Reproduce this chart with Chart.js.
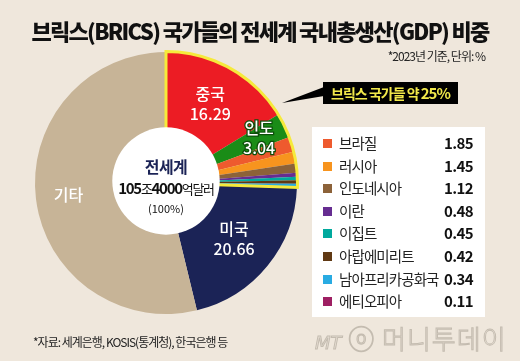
<!DOCTYPE html>
<html>
<head>
<meta charset="utf-8">
<script src="https://cdn.jsdelivr.net/npm/chart.js@4"></script>
<style>
  html, body { margin: 0; padding: 0; }
  body { width: 520px; height: 361px; background: #efe7dc; font-family: "Noto Sans CJK KR", sans-serif; overflow: hidden; }
  #wrap { position: relative; width: 520px; height: 361px; }
  #chart { position: absolute; left: 0; top: 0; }
  .abs { position: absolute; white-space: nowrap; }
  #title { left: 0; width: 520px; top: 14px; text-align: center; font-size: 22px; font-weight: 900; color: #111; letter-spacing: -1.7px; }
  #sub { right: 35px; top: 47px; font-size: 12px; color: #222; letter-spacing: -1px; }
  #callout { left: 323px; top: 82px; width: 135px; height: 22px; background: #000; color: #f2e94a; font-size: 14px; font-weight: 700; line-height: 22px; text-align: center; letter-spacing: -1px; }
  #center { left: 106px; width: 120px; top: 155px; text-align: center; color: #111; }
  #center .a { font-size: 16px; font-weight: 700; color: #1b2356; line-height: 22px; letter-spacing: -0.5px; }
  #center .b { font-size: 13px; line-height: 22px; letter-spacing: -1.3px; }
  #center .b b { font-size: 15px; }
  #center .c { font-size: 11px; line-height: 16px; }
  #legend { left: 312px; top: 127px; width: 173px; height: 190px; background: #fff; }
  .item { position: absolute; left: 0; width: 173px; height: 20px; }
  .sw { position: absolute; left: 11px; top: 6px; width: 9px; height: 9px; }
  .lab { position: absolute; left: 27px; top: 0; font-size: 14.5px; color: #222; line-height: 20px; letter-spacing: -0.9px; }
  .val { position: absolute; right: 12px; top: 0; font-size: 15px; font-weight: 700; color: #111; line-height: 20px; letter-spacing: -0.6px; }
  #foot { left: 33px; top: 333px; font-size: 12px; color: #222; letter-spacing: -1px; }
  #mark { left: 315px; top: 319px; font-size: 26px; color: #e8e0d5; -webkit-text-stroke: 1px #c4bcb0; letter-spacing: 1px; font-weight: 300; }
  #mark i { font-family: "DejaVu Sans", sans-serif; font-size: 18px; letter-spacing: 0; }
</style>
</head>
<body>
<div id="wrap">
  <canvas id="chart" width="520" height="361"></canvas>
  <div id="title" class="abs">브릭스(BRICS) 국가들의 전세계 국내총생산(GDP) 비중</div>
  <div id="sub" class="abs">*2023년 기준, 단위: %</div>
  <div id="callout" class="abs">브릭스 국가들 약 <span style="font-size:15px">25%</span></div>
  <div id="center" class="abs">
    <div class="a">전세계</div>
    <div class="b"><b>105</b>조<b>4000</b>억달러</div>
    <div class="c">(100%)</div>
  </div>
  <div id="legend" class="abs"></div>
  <div id="foot" class="abs">*자료: 세계은행, KOSIS(통계청), 한국은행 등</div>
  <div id="mark" class="abs"><i>MT</i> ⓞ 머니투데이</div>
</div>
<script>
// 2023 GDP share of world total, %
var countries = ['중국', '인도', '브라질', '러시아', '인도네시아', '이란', '이집트', '아랍에미리트', '남아프리카공화국', '에티오피아', '미국', '기타'];
var shares = [16.29, 3.04, 1.85, 1.45, 1.12, 0.48, 0.45, 0.42, 0.34, 0.11, 20.66, 53.79];
var colors = ['#ec1c24', '#1a8c17', '#ee5a2e', '#f7941e', '#8c6239', '#662d91', '#00a99d', '#603913', '#29abe2', '#9e1f63', '#1b2356', '#c7b497'];
var bricsCount = 10;            // first 10 slices are BRICS members
var legendIdx = [2, 3, 4, 5, 6, 7, 8, 9];
var sliceLabels = [0, 1, 10, 11]; // labelled inside the pie

// legend box
var legend = document.getElementById('legend');
legendIdx.forEach(function (k, i) {
    var d = document.createElement('div');
    d.className = 'item';
    d.style.top = (6 + i * 22.6) + 'px';
    d.innerHTML = '<span class="sw" style="background:' + colors[k] + '"></span>' +
        '<span class="lab">' + countries[k] + '</span>' +
        '<span class="val">' + shares[k].toFixed(2) + '</span>';
    legend.appendChild(d);
});

var labelPos = { 0: 0.69, 1: 0.79, 10: 0.67, 11: 0.75 };

var decor = {
    id: 'decor',
    afterDatasetsDraw: function (chart) {
        var ctx = chart.ctx;
        var arcs = chart.getDatasetMeta(0).data;
        var cx = arcs[0].x, cy = arcs[0].y, R = arcs[0].outerRadius;
        var a0 = arcs[0].startAngle, a1 = arcs[bricsCount - 1].endAngle;

        // yellow outline round the BRICS wedge
        ctx.save();
        ctx.strokeStyle = '#f6ea3c';
        ctx.lineWidth = 3;
        ctx.lineJoin = 'miter';
        ctx.beginPath();
        ctx.moveTo(cx, cy);
        ctx.arc(cx, cy, R + 0.5, a0, a1);
        ctx.closePath();
        ctx.stroke();

        // callout pointer
        ctx.fillStyle = '#000';
        ctx.beginPath();
        ctx.moveTo(324, 87);
        ctx.lineTo(324, 96);
        ctx.lineTo(282, 103);
        ctx.closePath();
        ctx.fill();

        // white centre disc
        ctx.fillStyle = '#fff';
        ctx.beginPath();
        ctx.arc(cx, cy - 2, R * 0.41, 0, Math.PI * 2);
        ctx.fill();

        // slice labels
        ctx.textAlign = 'center';
        ctx.textBaseline = 'middle';
        sliceLabels.forEach(function (k) {
            var a = arcs[k];
            var mid = (a.startAngle + a.endAngle) / 2;
            var r = R * labelPos[k];
            var x = cx + Math.cos(mid) * r, y = cy + Math.sin(mid) * r;
            var lines = k === 11 ? [countries[k]] : [countries[k], shares[k].toFixed(2)];
            ctx.font = '500 16px "Noto Sans CJK KR"';
            lines.forEach(function (t, j) {
                var yy = y + (j - (lines.length - 1) / 2) * 20;
                if (k === 1) {
                    ctx.lineWidth = 2.5;
                    ctx.strokeStyle = '#0d4f0b';
                    ctx.strokeText(t, x, yy);
                }
                ctx.fillStyle = '#fff';
                ctx.fillText(t, x, yy);
            });
        });
        ctx.restore();
    }
};

var chart = new Chart(document.getElementById('chart').getContext('2d'), {
    type: 'pie',
    data: {
        labels: countries,
        datasets: [{
            data: shares,
            backgroundColor: colors,
            borderWidth: 0
        }]
    },
    options: {
        responsive: false,
        animation: false,
        layout: { padding: { left: 35, top: 52, right: 223, bottom: 47 } },
        plugins: {
            legend: { display: false },
            tooltip: { enabled: false }
        }
    },
    plugins: [decor]
});
</script>
</body>
</html>
